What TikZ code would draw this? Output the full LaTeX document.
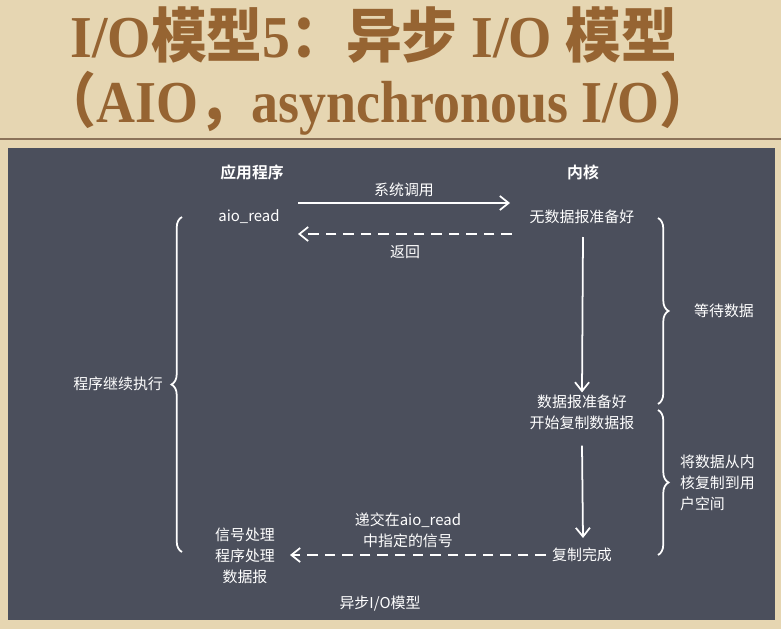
\documentclass[tikz,border=0pt]{standalone}
\usepackage{fontspec}
\setmainfont{Liberation Serif}
\newfontfamily\cjk{Noto Sans CJK SC}
\newfontfamily\cjkbold{Noto Sans CJK SC Bold}
\usetikzlibrary{arrows.meta, decorations.pathreplacing}
\definecolor{beige}{HTML}{E6D6B2}
\definecolor{panel}{HTML}{4B4F5C}
\definecolor{titlebrown}{HTML}{966432}
\tikzset{>={Straight Barb[length=5pt, width=8pt]},
  lbl/.style={text=white, font=\cjk\fontsize{8.5}{12}\selectfont, inner sep=1pt, align=center},
  head/.style={lbl, font=\cjkbold\fontsize{9}{12}\selectfont},
  ttl/.style={text=titlebrown, font=\bfseries\fontsize{26}{30}\selectfont, yscale=1.3, transform shape},
  flow/.style={white, line width=1pt, ->},
  back/.style={flow, dashed, dash pattern=on 6pt off 4pt},
  brc/.style={white, line width=1pt, decorate, decoration={brace, amplitude=6pt}}}

\begin{document}
\begin{tikzpicture}[x=0.02cm, y=-0.02cm]
  \useasboundingbox (0,0) rectangle (781,629);
  \fill[beige] (0,0) rectangle (781,629);
  \draw[titlebrown!50!gray, line width=0.8pt] (0,139) -- (781,139);
  \fill[panel] (8,148) rectangle (775,620);

  % title
  \node[ttl, xscale=1.22] (t1) at (374,35) {I/O{\cjkbold 模型}5{\cjkbold ：异步} I/O {\cjkbold 模型}};
  \node[ttl, xscale=1.18] (t2) at (378,103) {{\cjkbold （}AIO{\cjkbold ，}asynchronous I/O{\cjkbold ）}};

  % columns
  \node[head] (app) at (252,172) {应用程序};
  \node[head] (kern) at (583,172) {内核};
  \node[lbl] (aio) at (249,217) {aio\_read};
  \node[lbl] (nodata) at (582,217) {无数据报准备好};
  \node[lbl] (ready) at (582,412) {数据报准备好\\开始复制数据报};
  \node[lbl] (done) at (582,555) {复制完成};
  \node[lbl] (sig) at (245,556) {信号处理\\程序处理\\数据报};

  \coordinate (c1) at (298,203);
  \coordinate (c2) at (510,203);
  \coordinate (r1) at (512,234);
  \coordinate (r2) at (298,234);
  \draw[flow] (c1) -- node[lbl, above=2pt] (call) {系统调用} (c2);
  \draw[back] (r1) -- node[lbl, below=5pt] (ret) {返回} (r2);
  \draw[flow] (583,237) -- (ready.north);
  \draw[flow] (ready.south) ++(0,14) -- (583,538);
  \draw[back] (done.west) ++(-4,0) coordinate (d1) -- (290,555) coordinate (d2);
  \node[lbl] (deliver) at (408,530) {递交在aio\_read\\中指定的信号};

  % braces
  \draw[brc] (182,552) -- (182,217);
  \node[lbl, anchor=east] (cont) at (165,384) {程序继续执行};
  \draw[brc] (658,218) -- (658,404);
  \node[lbl] (wait) at (724,311) {等待数据};
  \draw[brc] (658,410) -- (658,555);
  \node[lbl, align=left, anchor=west] (copy) at (678,483) {将数据从内\\核复制到用\\户空间};

  \node[lbl] (cap) at (380,604) {异步I/O模型};
\end{tikzpicture}
\end{document}
